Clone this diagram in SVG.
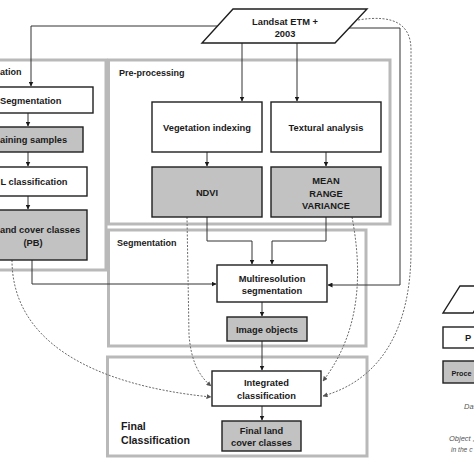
<svg xmlns="http://www.w3.org/2000/svg" width="474" height="474" viewBox="0 0 474 474">
<defs>
<marker id="ah" viewBox="0 0 10 10" refX="9" refY="5" markerWidth="5" markerHeight="5" orient="auto" markerUnits="userSpaceOnUse">
<path d="M0,0 L10,5 L0,10 Z" fill="#1a1a1a"/>
</marker>
<marker id="ahg" viewBox="0 0 10 10" refX="9" refY="5" markerWidth="5" markerHeight="5" orient="auto" markerUnits="userSpaceOnUse">
<path d="M0,0 L10,5 L0,10 Z" fill="#555"/>
</marker>
<style>
.panel{fill:none;stroke:#b9b9b9;stroke-width:3}
.box{fill:#fff;stroke:#1e1e1e;stroke-width:1.4}
.gbox{fill:#c2c2c2;stroke:#1e1e1e;stroke-width:1.4}
.t{font-family:"Liberation Sans",Arial,sans-serif;font-weight:bold;font-size:9.3px;fill:#1a1a1a;text-anchor:middle}
.ts{font-family:"Liberation Sans",Arial,sans-serif;font-weight:bold;font-size:9.3px;fill:#1a1a1a}
.pl{font-family:"Liberation Sans",Arial,sans-serif;font-weight:bold;font-size:9px;fill:#1a1a1a}
.big{font-family:"Liberation Sans",Arial,sans-serif;font-weight:bold;font-size:10.6px;fill:#1a1a1a}
.it{font-family:"Liberation Sans",Arial,sans-serif;font-style:italic;font-size:7.5px;fill:#555}
.c{fill:none;stroke:#333;stroke-width:1;marker-end:url(#ah)}
.d{fill:none;stroke:#6a6a6a;stroke-width:1;stroke-dasharray:2,1.5;marker-end:url(#ahg)}
</style>
</defs>
<rect width="474" height="474" fill="#fff"/>

<g id="panels">
<rect class="panel" x="-5" y="60" width="111" height="210"/>
<rect class="panel" x="108.5" y="60" width="281.5" height="164"/>
<rect class="panel" x="108.5" y="230" width="257.5" height="116"/>
<rect class="panel" x="107.5" y="357" width="259.5" height="99"/>
<text class="pl" x="0" y="75">ation</text>
<text class="pl" x="119" y="76">Pre-processing</text>
<text class="pl" x="117" y="246">Segmentation</text>
<text class="big" x="121" y="430">Final</text>
<text class="big" x="121" y="444">Classification</text>
</g>

<g id="connectors">
<path class="c" d="M217.5,26 H31 V86"/>
<path class="c" d="M242,43 V101"/>
<path class="c" d="M297,43 V101"/>
<path class="c" d="M349,28 H400 V285 H328"/>
<path class="c" d="M207,152 V166"/>
<path class="c" d="M326,152 V166"/>
<path class="c" d="M207,217 V241 H252 V264"/>
<path class="c" d="M326,217 V241 H272 V264"/>
<path class="c" d="M32,260 V284 H216"/>
<path class="c" d="M262,302 V316"/>
<path class="c" d="M262,341 V370"/>
<path class="c" d="M262,406 V420"/>
<path class="c" d="M28,113 V126"/>
<path class="c" d="M28,152 V166"/>
<path class="c" d="M28,196 V209"/>
<path class="d" d="M12,260 C12,340 90,385 211,397"/>
<path class="d" d="M187,217 L189,335 C191,360 198,375 211,386"/>
<path class="d" d="M352,217 C362,270 362,330 323,381"/>
<path class="d" d="M358,20 C395,14 411,25 411,50 L411,250 C411,330 380,380 323,396"/>
</g>

<g id="landsat">
<polygon class="box" points="233,9 367,9 335,43 202,43"/>
<text class="t" x="285" y="25">Landsat ETM +</text>
<text class="t" x="285" y="37">2003</text>
</g>

<g id="seg-left">
<rect class="box" x="-10" y="87" width="103" height="26"/>
<text class="ts" x="0" y="103.5">Segmentation</text>
</g>
<g id="training">
<rect class="gbox" x="-10" y="127" width="93" height="25"/>
<text class="ts" x="0" y="143">aining samples</text>
</g>
<g id="l-class">
<rect class="box" x="-10" y="167" width="97" height="29"/>
<text class="ts" x="0.5" y="185">L classification</text>
</g>
<g id="pb">
<rect class="gbox" x="-10" y="210" width="97" height="50"/>
<text class="ts" x="0" y="233">and cover classes</text>
<text class="t" x="33" y="246">(PB)</text>
</g>

<g id="veg">
<rect class="box" x="152" y="102" width="110" height="50"/>
<text class="t" x="207" y="131">Vegetation indexing</text>
</g>
<g id="textural">
<rect class="box" x="271" y="102" width="110" height="50"/>
<text class="t" x="326" y="131">Textural analysis</text>
</g>
<g id="ndvi">
<rect class="gbox" x="152" y="167" width="110" height="50"/>
<text class="t" x="207" y="196">NDVI</text>
</g>
<g id="mean">
<rect class="gbox" x="271" y="167" width="110" height="50"/>
<text class="t" x="326" y="183.5">MEAN</text>
<text class="t" x="326" y="196.5">RANGE</text>
<text class="t" x="326" y="209">VARIANCE</text>
</g>
<g id="multi">
<rect class="box" x="217" y="265" width="110" height="37"/>
<text class="t" x="272" y="281.5">Multiresolution</text>
<text class="t" x="272" y="293.5">segmentation</text>
</g>
<g id="imgobj">
<rect class="gbox" x="227" y="317" width="80" height="24"/>
<text class="t" x="267" y="333">Image objects</text>
</g>
<g id="integrated">
<rect class="box" x="212" y="371" width="109" height="35"/>
<text class="t" x="266.5" y="386">Integrated</text>
<text class="t" x="266.5" y="398.5">classification</text>
</g>
<g id="final">
<rect class="gbox" x="222" y="421" width="79" height="30"/>
<text class="t" x="261.5" y="433.5">Final land</text>
<text class="t" x="261.5" y="446">cover classes</text>
</g>

<g id="legend">
<polygon class="box" points="460,286 490,286 473,313 443,313"/>
<rect class="box" x="443" y="327" width="40" height="21"/>
<text class="ts" x="465" y="341">P</text>
<rect class="gbox" x="443" y="361" width="40" height="22"/>
<text class="ts" x="451.5" y="375.5" style="font-size:7.2px">Proce</text>
<text class="it" x="464" y="409">Da</text>
<text class="it" x="449" y="441">Object ,</text>
<text class="it" x="451" y="452" textLength="21.5" lengthAdjust="spacingAndGlyphs">in the c</text>
</g>
</svg>
